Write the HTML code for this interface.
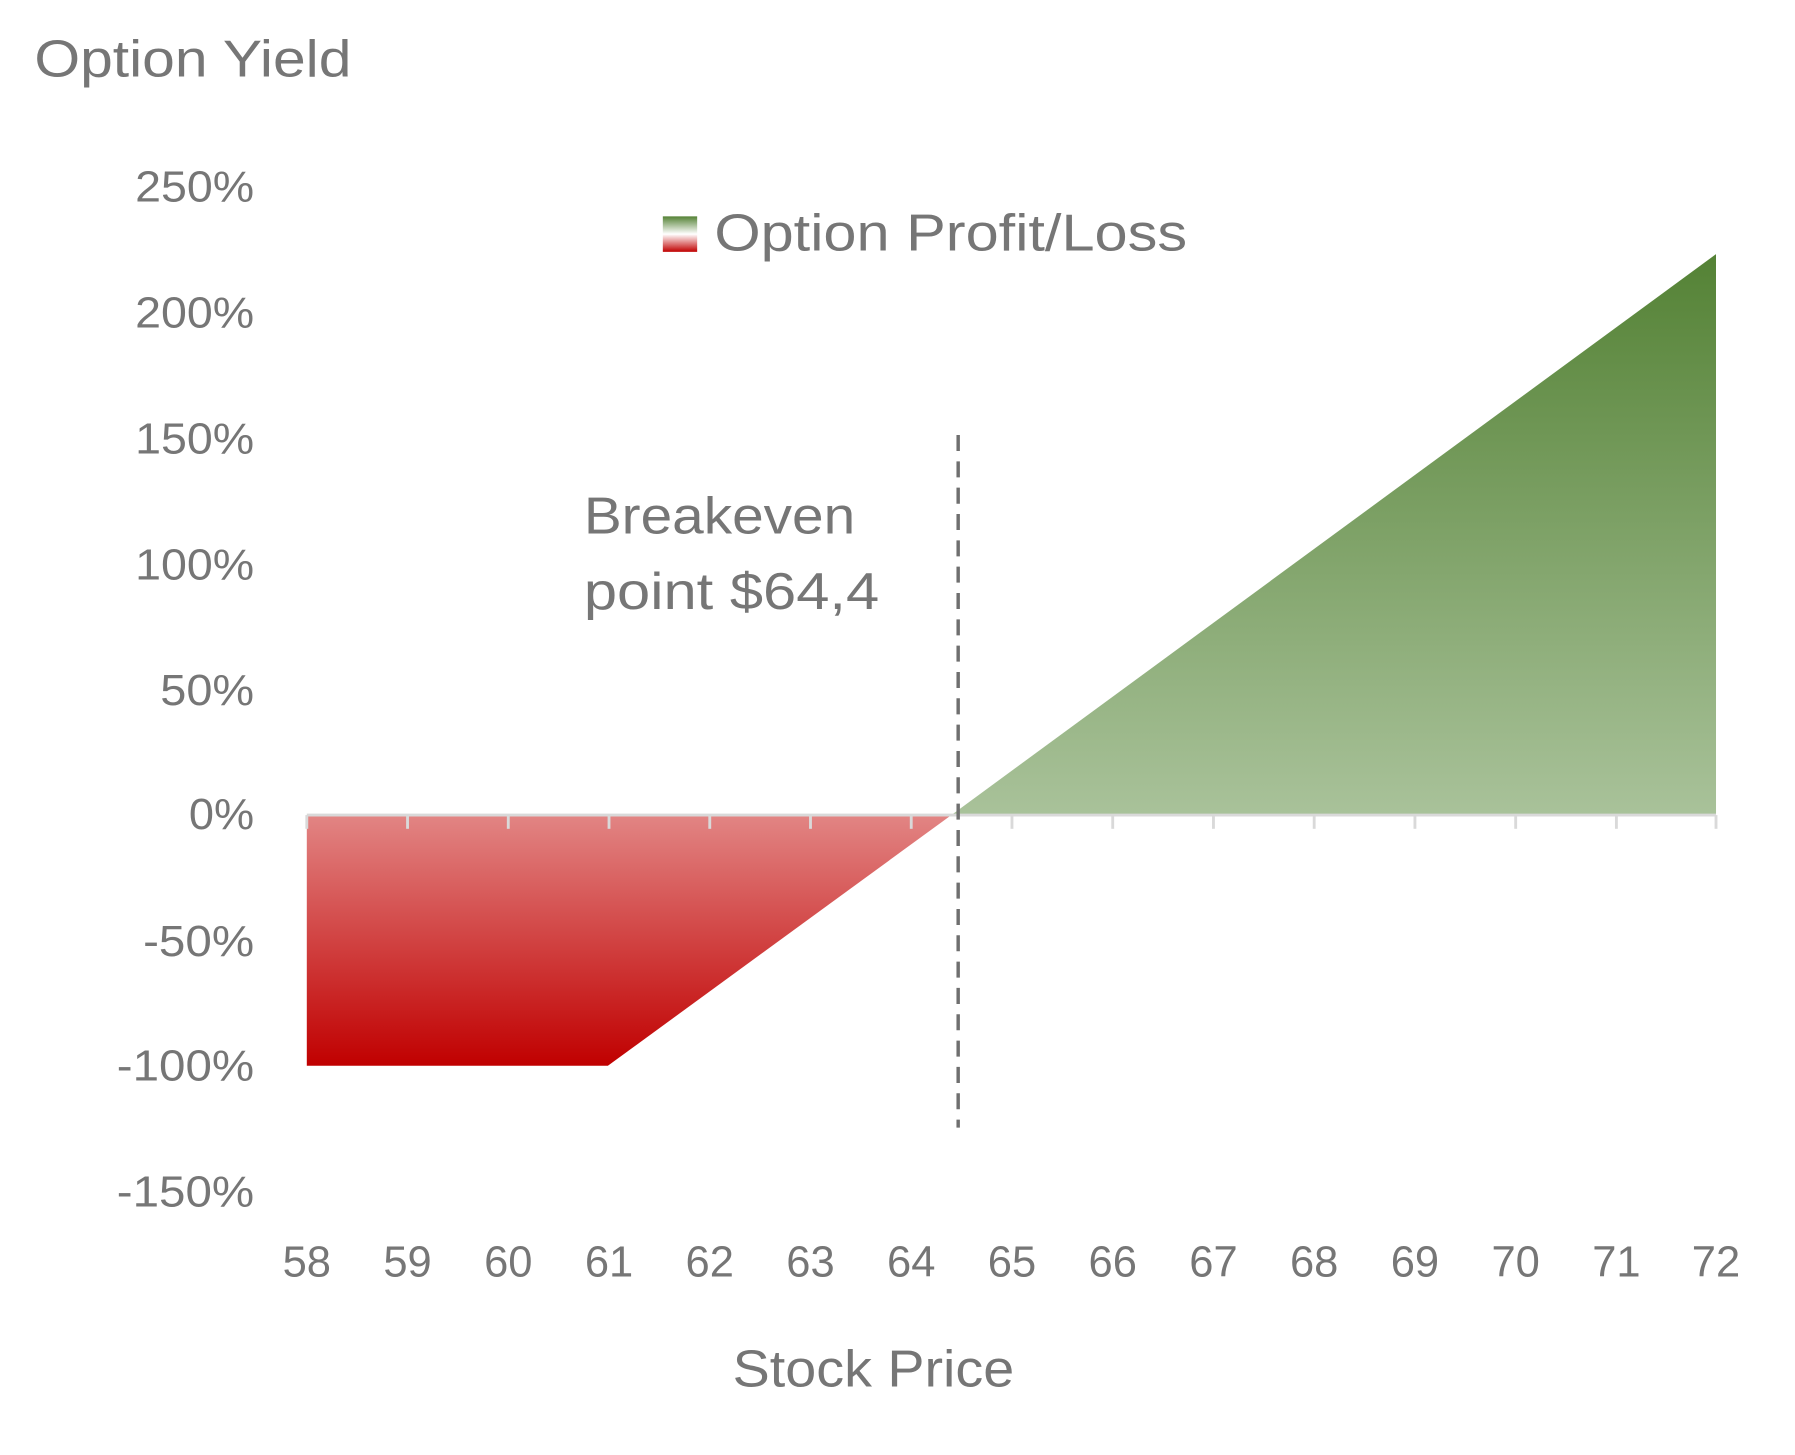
<!DOCTYPE html>
<html><head><meta charset="utf-8"><style>
html,body{margin:0;padding:0;background:#fff;}
svg{display:block;}
text{font-family:"Liberation Sans",sans-serif;fill:#767676;}
</style></head><body>
<svg width="1795" height="1455" viewBox="0 0 1568 1271" xmlns="http://www.w3.org/2000/svg">
<defs>
<linearGradient id="g" x1="0" y1="222" x2="0" y2="712" gradientUnits="userSpaceOnUse">
<stop offset="0" stop-color="#548235"/><stop offset="1" stop-color="#a9c29a"/></linearGradient>
<linearGradient id="r" x1="0" y1="712" x2="0" y2="931" gradientUnits="userSpaceOnUse">
<stop offset="0" stop-color="#e28584"/><stop offset="1" stop-color="#c00000"/></linearGradient>
<linearGradient id="lg" x1="0" y1="0" x2="0" y2="1">
<stop offset="0" stop-color="#548235"/><stop offset="0.5" stop-color="#ffffff"/><stop offset="1" stop-color="#c00000"/></linearGradient>
</defs>
<text x="30" y="67" font-size="45" textLength="277" lengthAdjust="spacingAndGlyphs">Option Yield</text>
<g font-size="38" text-anchor="end">
<text x="222" y="176" textLength="104" lengthAdjust="spacingAndGlyphs">250%</text><text x="222" y="286" textLength="104" lengthAdjust="spacingAndGlyphs">200%</text><text x="222" y="396" textLength="104" lengthAdjust="spacingAndGlyphs">150%</text>
<text x="222" y="506" textLength="104" lengthAdjust="spacingAndGlyphs">100%</text><text x="222" y="616" textLength="82" lengthAdjust="spacingAndGlyphs">50%</text><text x="222" y="724" textLength="57" lengthAdjust="spacingAndGlyphs">0%</text>
<text x="222" y="835" textLength="97" lengthAdjust="spacingAndGlyphs">-50%</text><text x="222" y="944" textLength="120" lengthAdjust="spacingAndGlyphs">-100%</text><text x="222" y="1054" textLength="120" lengthAdjust="spacingAndGlyphs">-150%</text>
</g>
<polygon points="831,712 1499,222 1499,712" fill="url(#g)"/>
<polygon points="268,712 831,712 531,931 268,931" fill="url(#r)"/>
<line x1="268" y1="712" x2="1499" y2="712" stroke="#d9d9d9" stroke-width="2.5"/>
<g stroke="#d9d9d9" stroke-width="2.5">
<line x1="268" y1="712" x2="268" y2="724"/><line x1="356" y1="712" x2="356" y2="724"/><line x1="444" y1="712" x2="444" y2="724"/>
<line x1="532" y1="712" x2="532" y2="724"/><line x1="620" y1="712" x2="620" y2="724"/><line x1="708" y1="712" x2="708" y2="724"/>
<line x1="796" y1="712" x2="796" y2="724"/><line x1="884" y1="712" x2="884" y2="724"/><line x1="972" y1="712" x2="972" y2="724"/>
<line x1="1060" y1="712" x2="1060" y2="724"/><line x1="1148" y1="712" x2="1148" y2="724"/><line x1="1236" y1="712" x2="1236" y2="724"/>
<line x1="1324" y1="712" x2="1324" y2="724"/><line x1="1412" y1="712" x2="1412" y2="724"/><line x1="1499" y1="712" x2="1499" y2="724"/>
</g>
<line x1="837" y1="380" x2="837" y2="985" stroke="#6f6f6f" stroke-width="3" stroke-dasharray="14,9"/>
<g font-size="38" text-anchor="middle">
<text x="268" y="1115">58</text><text x="356" y="1115">59</text><text x="444" y="1115">60</text><text x="532" y="1115">61</text>
<text x="620" y="1115">62</text><text x="708" y="1115">63</text><text x="796" y="1115">64</text><text x="884" y="1115">65</text>
<text x="972" y="1115">66</text><text x="1060" y="1115">67</text><text x="1148" y="1115">68</text><text x="1236" y="1115">69</text>
<text x="1324" y="1115">70</text><text x="1412" y="1115">71</text><text x="1499" y="1115">72</text>
</g>
<text x="640" y="1211" font-size="45" textLength="246" lengthAdjust="spacingAndGlyphs">Stock Price</text>
<rect x="579" y="189" width="30" height="31" fill="url(#lg)"/>
<text x="624" y="219" font-size="45" textLength="413" lengthAdjust="spacingAndGlyphs">Option Profit/Loss</text>
<text x="510" y="466" font-size="45" textLength="237" lengthAdjust="spacingAndGlyphs">Breakeven</text>
<text x="510" y="532" font-size="45" textLength="258" lengthAdjust="spacingAndGlyphs">point $64,4</text>
</svg>
</body></html>
